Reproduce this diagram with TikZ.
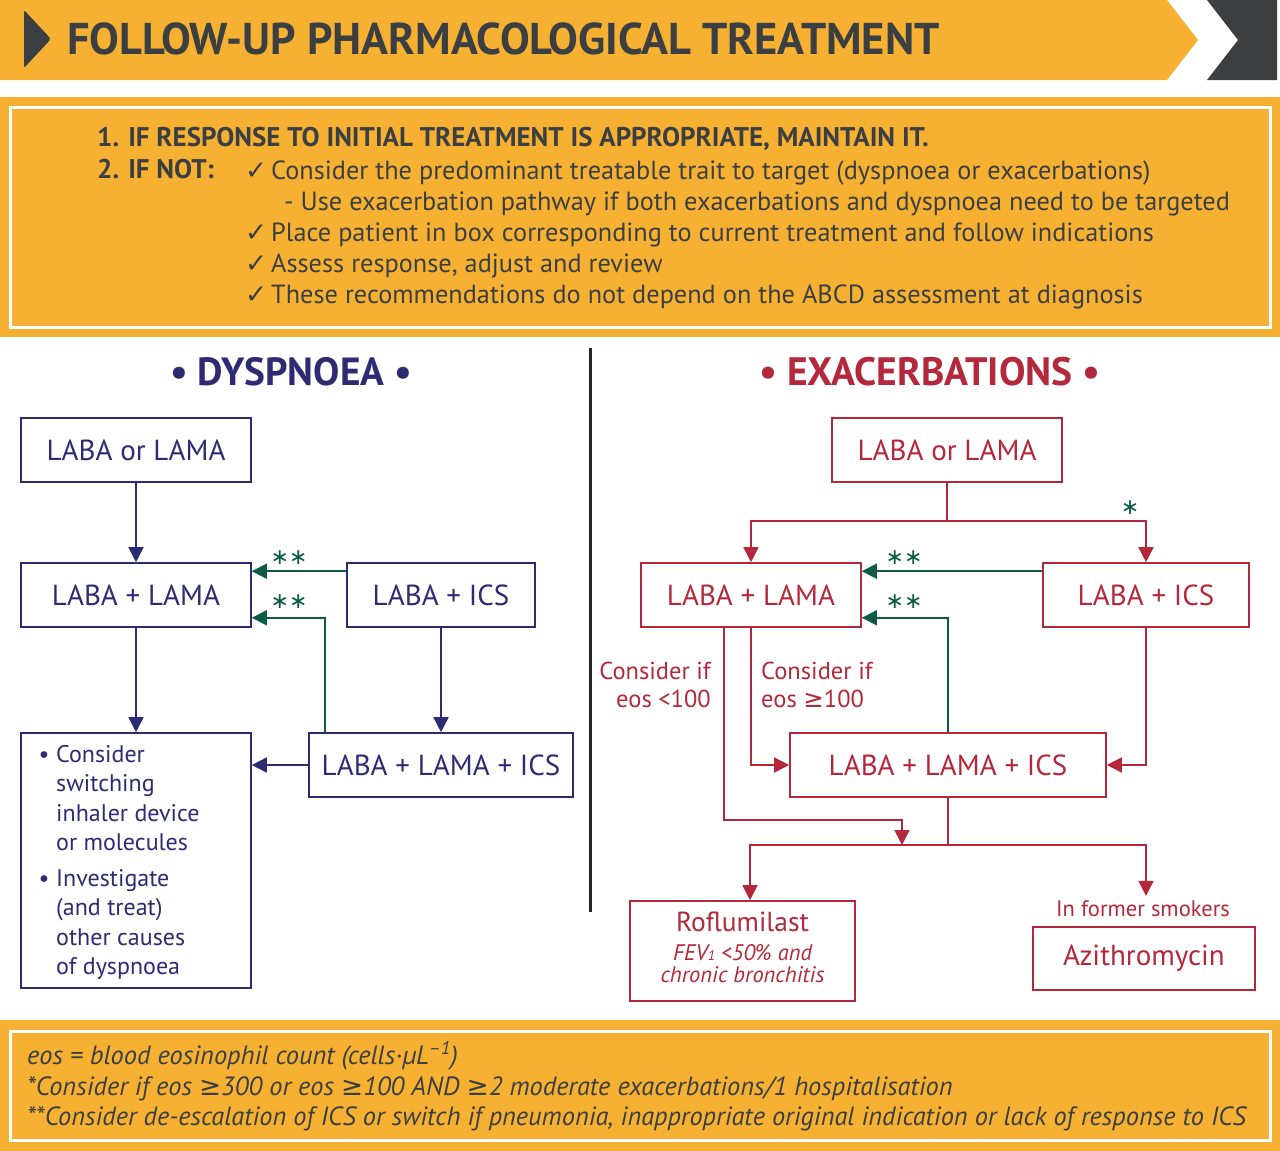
\documentclass[tikz,border=0pt]{standalone}
\usepackage{fontspec}
\setmainfont{PT Sans}
\newfontfamily\symf{DejaVu Sans}
\usetikzlibrary{arrows.meta,calc}
\definecolor{orng}{HTML}{F6B133}
\definecolor{dgrey}{HTML}{3C3F42}
\definecolor{navy}{HTML}{2F2B73}
\definecolor{crim}{HTML}{B3283A}
\definecolor{grn}{HTML}{0E5B45}
\newcommand\myfs[2]{\fontsize{#1}{#2}\selectfont}
\newcommand\chk{{\symf ✓}}
\newcommand\gtq{{\symf ≥}}
\newcommand\myast{{\symf ∗}}
\tikzset{
  dbox/.style={draw=navy, line width=1.6pt, text=navy, font=\myfs{29}{30}, inner sep=0pt},
  rbox/.style={draw=crim, line width=1.6pt, text=crim, font=\myfs{29}{30}, inner sep=0pt},
  narr/.style={draw=navy, line width=1.6pt, -{Triangle[length=15pt,width=15pt]}},
  rarr/.style={draw=crim, line width=1.6pt, -{Triangle[length=15pt,width=15pt]}},
  rline/.style={draw=crim, line width=1.6pt},
  garr/.style={draw=grn, line width=1.6pt, -{Triangle[length=15pt,width=15pt]}},
  star/.style={text=grn, font=\myfs{22}{22}, inner sep=0pt},
  toptxt/.style={text=dgrey, anchor=base west, inner sep=0pt, font=\myfs{26.3}{26}},
  topbold/.style={text=dgrey, anchor=base west, inner sep=0pt, font=\myfs{27}{27}\bfseries},
  foot/.style={text=dgrey, anchor=base west, inner sep=0pt, font=\myfs{26.4}{26}\itshape},
  lbl/.style={text=crim, inner sep=0pt, font=\myfs{24.5}{28}},
}
\begin{document}
\begin{tikzpicture}[x=1pt,y=-1pt]
\useasboundingbox (0,0) rectangle (1280,1151);
\fill[white] (0,0) rectangle (1280,1151);
% header
\fill[orng] (0,0) -- (1167,0) -- (1198,40) -- (1167,80) -- (0,80) -- cycle;
\fill[dgrey] (1207,0) -- (1277,0) -- (1277,80) -- (1207,80) -- (1238,40) -- cycle;
\fill[dgrey, rounded corners=2pt] (24,10) -- (51,39) -- (24,68) -- cycle;
\node[anchor=base west, inner sep=0pt, text=dgrey, font=\myfs{44.5}{44}\bfseries] (title) at (67,54) {FOLLOW-UP PHARMACOLOGICAL TREATMENT};
% top box
\fill[orng] (0,97) rectangle (1280,337);
\draw[white, line width=3pt] (10,107) rectangle (1270,327);
\node[topbold] (t1) at (97,146) {1. IF RESPONSE TO INITIAL TREATMENT IS APPROPRIATE, MAINTAIN IT.};
\node[topbold] (t2) at (97,178) {2. IF NOT:};
\node[toptxt] (c1) at (245,179) {\chk};
\node[toptxt] (l1) at (271,179) {Consider the predominant treatable trait to target (dyspnoea or exacerbations)};
\node[toptxt] (l2) at (284,210) {- Use exacerbation pathway if both exacerbations and dyspnoea need to be targeted};
\node[toptxt] (c3) at (245,241) {\chk};
\node[toptxt] (l3) at (271,241) {Place patient in box corresponding to current treatment and follow indications};
\node[toptxt] (c4) at (245,272) {\chk};
\node[toptxt] (l4) at (271,272) {Assess response, adjust and review};
\node[toptxt] (c5) at (245,303) {\chk};
\node[toptxt] (l5) at (271,303) {These recommendations do not depend on the ABCD assessment at diagnosis};
% headings
\node[anchor=base, inner sep=0pt, text=navy, font=\myfs{39.3}{39}\bfseries] (hd) at (291,385) {• DYSPNOEA •};
\node[anchor=base, inner sep=0pt, text=crim, font=\myfs{39.6}{39}\bfseries] (he) at (930,385) {• EXACERBATIONS •};
\draw[line width=3pt, black!85] (590,348) -- (590,912);
% dyspnoea boxes
\node[dbox, minimum width=230, minimum height=64] (d1) at (136,450) {LABA or LAMA};
\node[dbox, minimum width=230, minimum height=64] (d2) at (136,595) {LABA + LAMA};
\node[dbox, minimum width=188, minimum height=64] (d3) at (441,595) {LABA + ICS};
\node[dbox, minimum width=264, minimum height=64] (d4) at (441,765) {LABA + LAMA + ICS};
\node[dbox, minimum width=230, minimum height=255] (d5) at (136,860.5) {};
\node[anchor=base, inner sep=0pt, text=navy, font=\myfs{24}{24}] (b1) at (44,762) {•};
\node[anchor=base west, inner sep=0pt, text=navy, align=left, font=\myfs{24}{29.5}] (b1t) at (56,850.5) {Consider\\switching\\inhaler device\\or molecules};
\node[anchor=base, inner sep=0pt, text=navy, font=\myfs{24}{24}] (b2) at (44,886) {•};
\node[anchor=base west, inner sep=0pt, text=navy, align=left, font=\myfs{24}{29.5}] (b2t) at (56,974.5) {Investigate\\(and treat)\\other causes\\of dyspnoea};
\draw[narr] (d1.south) -- (d2.north);
\draw[narr] (d2.south) -- (d5.north);
\draw[narr] (d3.south) -- (d4.north);
\draw[narr] (d4.west) -- (d4.west -| d5.east);
\draw[garr] ([yshift=-9pt]d3.north west) -- ([yshift=-9pt]d2.north east);
\draw[garr] ([xshift=17pt]d4.north west) |- ([yshift=10pt]d2.south east);
\node[star] (s1) at (289,558) {\myast\myast};
\node[star] (s2) at (289,602) {\myast\myast};
% exacerbation boxes
\node[rbox, minimum width=230, minimum height=64] (e1) at (947,450) {LABA or LAMA};
\node[rbox, minimum width=220, minimum height=64] (e2) at (751,595) {LABA + LAMA};
\node[rbox, minimum width=206, minimum height=64] (e3) at (1146,595) {LABA + ICS};
\node[rbox, minimum width=316, minimum height=64] (e4) at (948,765) {LABA + LAMA + ICS};
\node[rbox, minimum width=225, minimum height=100] (e5) at (742.5,951) {};
\node[anchor=base, inner sep=0pt, text=crim, font=\myfs{27.5}{27}] (e5a) at (742.5,931) {Roflumilast};
\node[anchor=base, inner sep=0pt, text=crim, align=center, font=\myfs{22.5}{22}\itshape] (e5b) at (742.5,982) {FEV{\myfs{14}{14}1} <50\% and\\chronic bronchitis};
\node[rbox, minimum width=222, minimum height=63] (e6) at (1144,958.5) {Azithromycin};
\node[anchor=base, inner sep=0pt, text=crim, font=\myfs{22.5}{22}] (fs) at (1143,916) {In former smokers};
\coordinate (ej) at (947,521);
\draw[rline] (e1.south) -- (ej);
\draw[rarr] (ej) -| (e2.north);
\draw[rarr] (ej) -| (e3.north);
\node[star] (s3) at (1130,508) {\myast};
\draw[garr] ([yshift=-9pt]e3.north west) -- ([yshift=-9pt]e2.north east);
\draw[garr] (e4.north) |- ([yshift=10pt]e2.south east);
\node[star] (s4) at (904,558) {\myast\myast};
\node[star] (s5) at (904,602) {\myast\myast};
\draw[rarr] (e2.south) |- (e4.west);
\draw[rarr] (e3.south) |- (e4.east);
\coordinate (m1) at (902,820);
\coordinate (m2) at (902,845);
\draw[rarr] ([xshift=-27pt]e2.south) |- (m1) -- (m2);
\coordinate (ej2) at (948,845);
\draw[rline] (e4.south) -- (ej2);
\draw[rarr] (ej2) -| ([xshift=7.5pt]e5.north);
\draw[rarr] (ej2) -| ([yshift=4pt]fs.north -| e3.south);
\node[lbl, anchor=north east, align=right] (cl1) at (711,662) {Consider if\\eos <100};
\node[lbl, anchor=north west, align=left] (cl2) at (761,662) {Consider if\\eos \gtq100};
% footer
\fill[orng] (0,1020) rectangle (1280,1151);
\draw[white, line width=3pt] (10,1031) rectangle (1270,1140);
\node[foot] (f1) at (27,1064) {eos = blood eosinophil count (cells·µL\textsuperscript{–1})};
\node[foot] (f2) at (27,1095) {*Consider if eos \gtq300 or eos \gtq100 AND \gtq2 moderate exacerbations/1 hospitalisation};
\node[foot] (f3) at (27,1125) {**Consider de-escalation of ICS or switch if pneumonia, inappropriate original indication or lack of response to ICS};
\end{tikzpicture}
\end{document}
